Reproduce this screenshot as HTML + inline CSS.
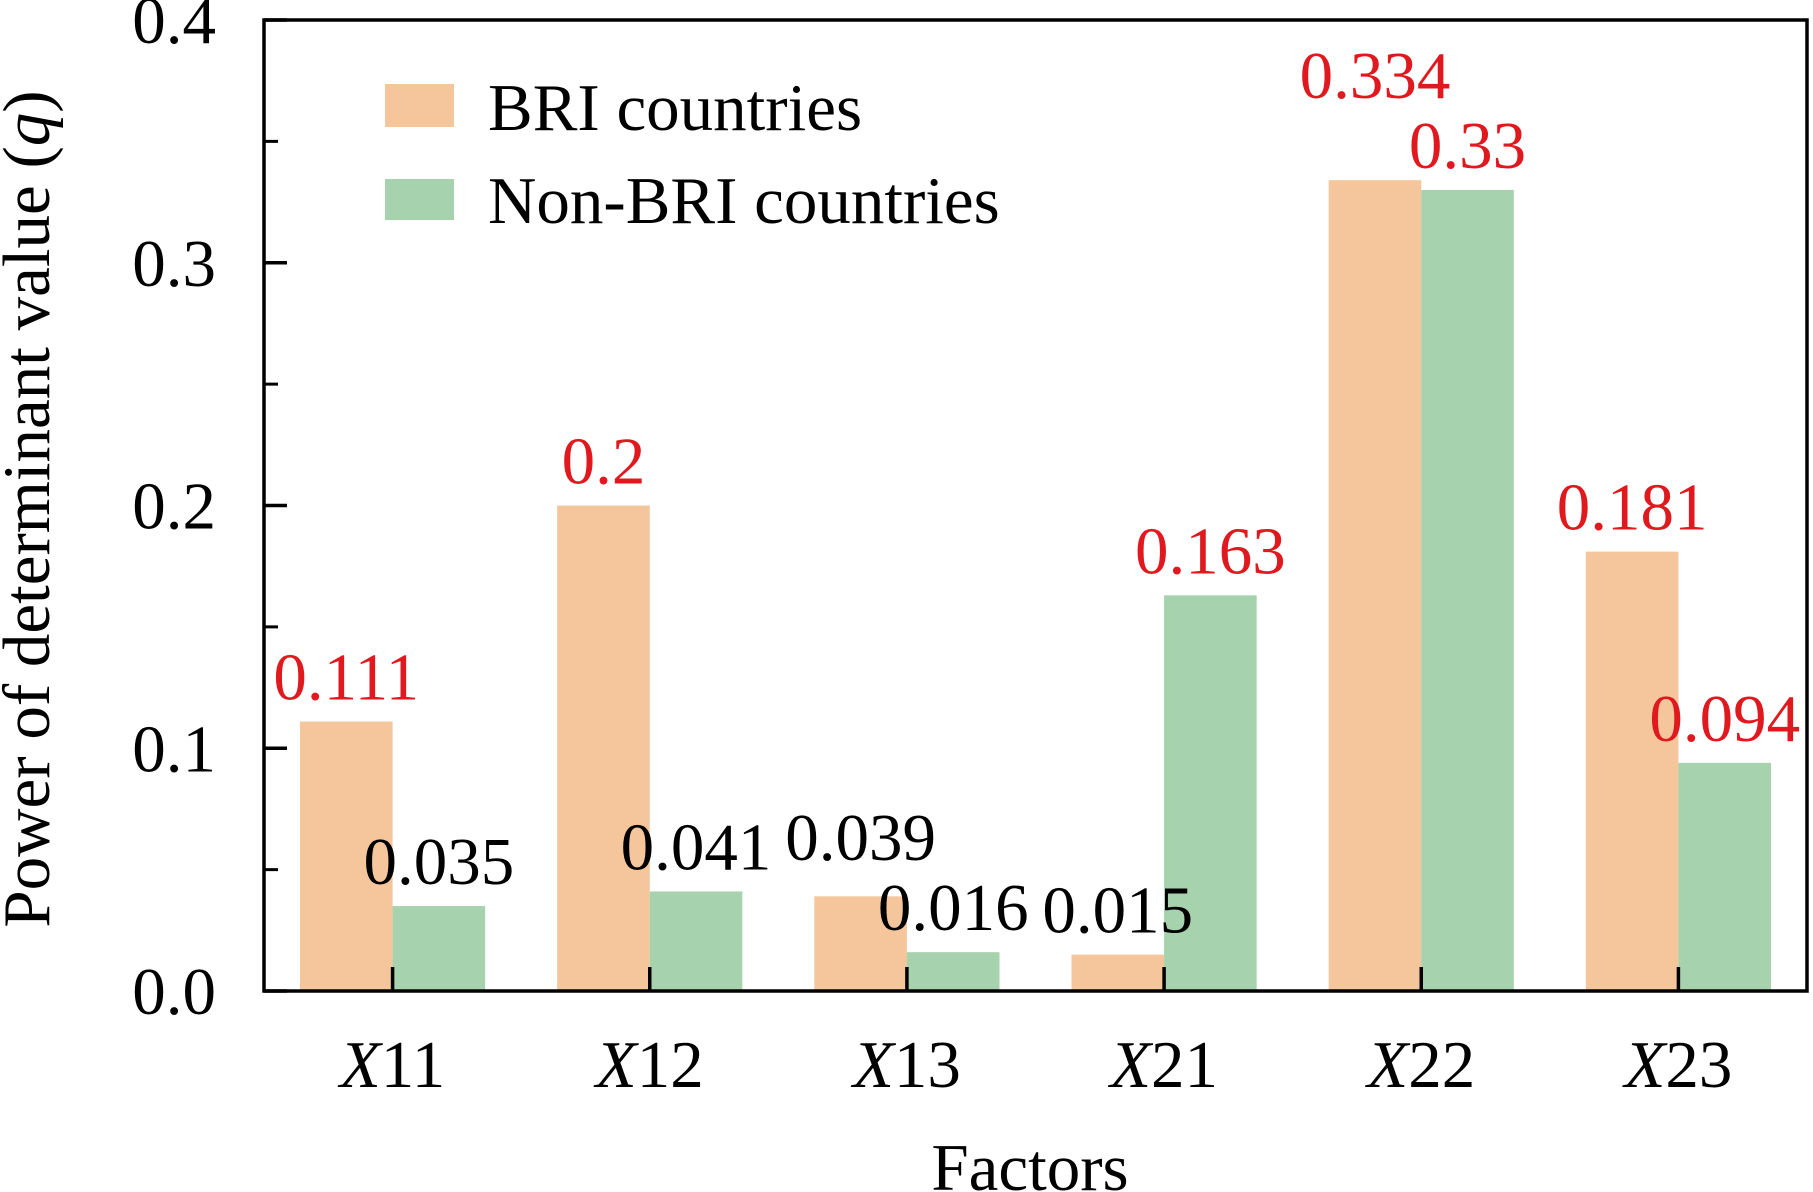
<!DOCTYPE html>
<html><head><meta charset="utf-8"><style>
html,body{margin:0;padding:0;background:#fff;}
svg{display:block;font-family:"Liberation Serif",serif;}
</style></head><body>
<svg id="chart" width="1813" height="1192" viewBox="0 0 1813 1192"></svg>
<script>
const categories = ["11","12","13","21","22","23"];
const briValues = [0.111,0.2,0.039,0.015,0.334,0.181];
const nonBriValues = [0.035,0.041,0.016,0.163,0.33,0.094];
const briLabelRed = [true,true,false,false,true,true];
const nonBriLabelRed = [false,false,false,true,true,true];
const yTicks = ["0.0","0.1","0.2","0.3","0.4"];

const NS="http://www.w3.org/2000/svg";
const svg=document.getElementById('chart');
const L=264,R=1807,T=20,B=991;
const yMax=0.4;
function y(v){return B-(v/yMax)*(B-T);}
const band=(R-L)/categories.length;
function xc(i){return L+band*(i+0.5);}
const bw=band*0.36;
function mk(tag,attrs,parent){const e=document.createElementNS(NS,tag);for(const k in attrs)e.setAttribute(k,attrs[k]);(parent||svg).appendChild(e);return e;}

const bars=mk('g',{});


categories.forEach((c,i)=>{
  const b1=mk('rect',{x:xc(i)-bw,y:y(briValues[i]),width:bw,height:B-y(briValues[i]),fill:'#F5C59C'},bars);
  
  
  const b2=mk('rect',{x:xc(i),y:y(nonBriValues[i]),width:bw,height:B-y(nonBriValues[i]),fill:'#A6D3AD'},bars);
  
  
});

const labs=mk('g',{'font-size':67,'text-anchor':'middle'});


categories.forEach((c,i)=>{
  let y1=y(briValues[i])-22, y2=y(nonBriValues[i])-22;
  if(Math.abs(y1-y2)<70){ if(y1<y2) y1=Math.min(y1,y2-70); else y2=Math.min(y2,y1-70); }
  const t1=mk('text',{x:xc(i)-bw/2,y:y1,fill:briLabelRed[i]?'#E0191E':'#000'},labs);
  t1.textContent=String(briValues[i]);
  
  
  const t2=mk('text',{x:xc(i)+bw/2,y:y2,fill:nonBriLabelRed[i]?'#E0191E':'#000'},labs);
  t2.textContent=String(nonBriValues[i]);
  
  
});

const frame=mk('rect',{x:L,y:T,width:R-L,height:B-T,fill:'none',stroke:'#000','stroke-width':3.5});



const yg=mk('g',{'font-size':67,'text-anchor':'end'});


yTicks.forEach((t,i)=>{
  const v=parseFloat(t), py=y(v);
  mk('line',{x1:L,x2:L+23,y1:py,y2:py,stroke:'#000','stroke-width':3.5},yg);
  if(i<yTicks.length-1){const pm=y(v+0.05);mk('line',{x1:L,x2:L+14,y1:pm,y2:pm,stroke:'#000','stroke-width':3},yg);}
  const tx=mk('text',{x:216,y:py+23},yg);
  tx.textContent=t;
  
  
});

const xg=mk('g',{'font-size':67,'text-anchor':'middle'});


categories.forEach((c,i)=>{
  mk('line',{x1:xc(i),x2:xc(i),y1:B,y2:B-24,stroke:'#000','stroke-width':3.5},xg);
  const tx=mk('text',{x:xc(i),y:1087},xg);
  tx.innerHTML='<tspan font-style="italic">X</tspan>'+c;
  
  
});
</script>
<svg style="position:absolute;left:0;top:0" width="1813" height="1192">
  <g font-family="Liberation Serif, serif" font-size="67">
    <text x="1030" y="1190" text-anchor="middle">Factors</text>
    <text transform="translate(49,509) rotate(-90)" text-anchor="middle">Power of determinant value (<tspan font-style="italic">q</tspan>)</text>
    <g>
      <rect x="385" y="84" width="69" height="43" fill="#F5C59C"/>
      <text x="488" y="130">BRI countries</text>
      <rect x="385" y="179" width="69" height="41" fill="#A6D3AD"/>
      <text x="488" y="223">Non-BRI countries</text>
    </g>
  </g>
</svg>
</body></html>
